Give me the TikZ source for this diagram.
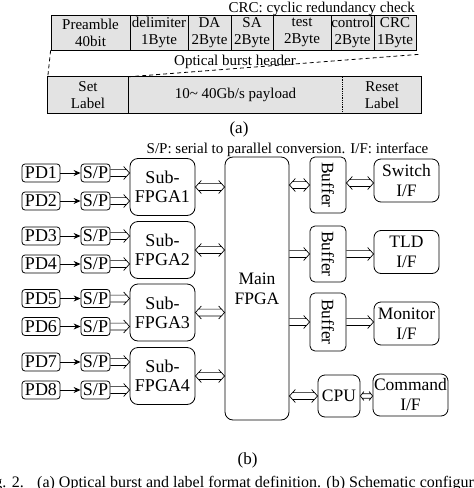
\documentclass[tikz,border=0pt]{standalone}
\usepackage{fontspec}
\usepackage{graphicx}
\setmainfont{Liberation Serif}
\usetikzlibrary{arrows.meta,calc}
\newcommand\fsz[2]{\fontsize{#1}{#2}\selectfont}
\newcommand\hsh{3.4}% shaft half-width
\newcommand\hhw{6.5}% head half-width
\newcommand\hhl{6}% head length
\tikzset{
  cell/.style={draw, line width=0.8pt, fill=black!11, inner sep=0pt, minimum height=35pt, align=center, font=\fsz{15}{17}},
  pcell/.style={fill=black!11, inner sep=0pt, minimum height=36pt, align=center, font=\fsz{15}{16.5}},
  boxline/.style={line width=0.8pt},
  dashln/.style={line width=0.8pt, dash pattern=on 4pt off 3pt},
  pdbox/.style={draw, line width=0.8pt, rounded corners=3pt, minimum width=38pt, minimum height=18pt, inner sep=0pt, font=\fsz{18}{20}},
  spbox/.style={draw, line width=0.8pt, rounded corners=3pt, minimum width=29pt, minimum height=18pt, inner sep=0pt, font=\fsz{18}{20}},
  subbox/.style={draw, line width=0.8pt, rounded corners=8pt, minimum width=65pt, minimum height=57pt, inner sep=0pt, align=center, font=\fsz{18}{19}},
  mainbox/.style={draw, line width=0.8pt, rounded corners=8pt, minimum width=64pt, minimum height=263pt, inner sep=0pt, align=center, font=\fsz{17.5}{20}},
  bufbox/.style={draw, line width=0.8pt, rounded corners=5pt, minimum width=36pt, minimum height=56pt, inner sep=0pt, font=\fsz{17.5}{20}},
  ifbox/.style={draw, line width=0.8pt, rounded corners=7pt, minimum width=65pt, minimum height=43pt, inner sep=0pt, align=center, font=\fsz{17.5}{20}},
  parrow/.style={line width=0.9pt, -{Stealth[length=7pt,width=6pt]}},
  hsingle/.style={line width=0.7pt, line join=miter, to path={
    ($(\tikztostart)+(0,\hsh)$) -- ($(\tikztotarget)+({-\hhl*\hsh/\hhw},\hsh)$)
    ($(\tikztostart)+(0,-\hsh)$) -- ($(\tikztotarget)+({-\hhl*\hsh/\hhw},-\hsh)$)
    ($(\tikztotarget)+(-\hhl,\hhw)$) -- (\tikztotarget) -- ($(\tikztotarget)+(-\hhl,-\hhw)$)
  }},
  hdouble/.style={line width=0.7pt, line join=miter, to path={
    ($(\tikztostart)+({\hhl*\hsh/\hhw},\hsh)$) -- ($(\tikztotarget)+({-\hhl*\hsh/\hhw},\hsh)$)
    ($(\tikztostart)+({\hhl*\hsh/\hhw},-\hsh)$) -- ($(\tikztotarget)+({-\hhl*\hsh/\hhw},-\hsh)$)
    ($(\tikztotarget)+(-\hhl,\hhw)$) -- (\tikztotarget) -- ($(\tikztotarget)+(-\hhl,-\hhw)$)
    ($(\tikztostart)+(\hhl,\hhw)$) -- (\tikztostart) -- ($(\tikztostart)+(\hhl,-\hhw)$)
  }},
  lbl/.style={inner sep=0pt, font=\fsz{15}{17}}
}
\begin{document}
\begin{tikzpicture}[x=1pt,y=-1pt]
\useasboundingbox (0,0) rectangle (474,488);
\clip (0,0) rectangle (474,488);

% ---------- (a) ----------
\node[lbl, anchor=base east] (crctxt) at (415,12) {CRC: cyclic redundancy check};
\node[cell, minimum width=79pt] (pre) at (90.5,32.5) {Preamble\\40bit};
\node[cell, minimum width=58pt] (del) at (159,32.5) {delimiter\\1Byte};
\node[cell, minimum width=43pt] (da) at (209.5,32.5) {DA\\2Byte};
\node[cell, minimum width=42pt] (sa) at (252,32.5) {SA\\2Byte};
\node[cell, minimum width=58pt] (tst) at (302,32.5) {test\\2Byte};
\node[cell, minimum width=43pt] (ctl) at (352.5,32.5) {control\\2Byte};
\node[cell, minimum width=42pt] (crc) at (395,32.5) {CRC\\1Byte};

\node[pcell, minimum width=80pt] (set) at (88,95) {Set\\Label};
\node[pcell, minimum width=215pt] (pay) at (235.5,95) {10\textasciitilde\ 40Gb/s payload};
\node[pcell, minimum width=78pt] (rst) at (382,95) {Reset\\Label};
\draw[boxline] (set.north west) rectangle (rst.south east);
\draw[boxline] (set.north east) -- (set.south east);
\draw[boxline, densely dotted] (rst.north west) -- (rst.south west);

\coordinate (hr) at ([xshift=2pt,yshift=-4pt]crc.south east);
\draw[dashln] (pre.south west) -- (set.north west);
\draw[dashln] (hr) -- (set.north east);
\node[lbl, anchor=base] (obh) at (235,65) {Optical burst header};
\node[inner sep=0pt, font=\fsz{17}{19}, anchor=base] (capa) at (239,133) {(a)};

% ---------- (b) ----------
\node[lbl, anchor=base] (legend) at (287.5,153) {S/P: serial to parallel conversion. I/F: interface};

\foreach \i/\y in {1/173,2/201,3/236,4/264,5/298.5,6/326.5,7/362,8/390}{
  \node[pdbox] (pd\i) at (41,\y) {PD\i};
  \node[spbox] (sp\i) at (95.5,\y) {S/P};
}
\node[subbox] (sf1) at (162.5,187) {Sub-\\FPGA1};
\node[subbox] (sf2) at (162.5,250) {Sub-\\FPGA2};
\node[subbox] (sf3) at (162.5,312.5) {Sub-\\FPGA3};
\node[subbox] (sf4) at (162.5,376) {Sub-\\FPGA4};

\node[mainbox] (main) at (257,288.5) {Main\\FPGA};

\node[bufbox] (b1) at (328,185) {\rotatebox{-90}{Buffer}};
\node[bufbox] (b2) at (328,254) {\rotatebox{-90}{Buffer}};
\node[bufbox, minimum height=58pt] (b3) at (328,322) {\rotatebox{-90}{Buffer}};
\node[bufbox, minimum width=42pt, minimum height=42pt, rounded corners=7pt] (cpu) at (339,396) {CPU};

\node[ifbox] (sw) at (406.5,180.5) {Switch\\I/F};
\node[ifbox] (tld) at (406.5,252) {TLD\\I/F};
\node[ifbox] (mon) at (406.5,323.5) {Monitor\\I/F};
\node[ifbox, minimum width=75pt, minimum height=42pt] (cmd) at (410.5,395) {Command\\I/F};

\foreach \i in {1,...,8}{
  \draw[parrow] (pd\i) -- (sp\i);
}
\foreach \i/\s in {1/1,2/1,3/2,4/2,5/3,6/3,7/4,8/4}{
  \draw[hsingle] (sp\i.east) to (sp\i.east -| sf\s.west);
}
\foreach \s in {1,...,4}{
  \draw[hdouble] (sf\s.east) to (sf\s.east -| main.west);
}
\draw[hdouble] (b1.west -| main.east) to (b1.west);
\draw[hsingle] (b2.west -| main.east) to (b2.west);
\draw[hsingle] (b3.west -| main.east) to (b3.west);
\draw[hdouble] (cpu.west -| main.east) to (cpu.west);
\draw[hdouble] ([yshift=2pt]b1.east) to ([yshift=2pt]b1.east -| sw.west);
\draw[hsingle] (b2.east) to (b2.east -| tld.west);
\draw[hsingle] (b3.east) to (b3.east -| mon.west);
\begin{scope}
\renewcommand\hsh{2.3}\renewcommand\hhw{4.5}\renewcommand\hhl{3.5}
\draw[hdouble] (cpu.east) to (cpu.east -| cmd.west);
\end{scope}

\node[inner sep=0pt, font=\fsz{17}{19}, anchor=base] (capb) at (247.5,464) {(b)};

% caption
\node[inner sep=0pt, font=\fsz{16}{18}, anchor=base east] (fig) at (24,487) {Fig. 2.};
\node[inner sep=0pt, font=\fsz{16}{18}, anchor=base west] (captxt) at (37,487) {(a) Optical burst and label format definition. (b) Schematic configuration of the label processor.};
\end{tikzpicture}
\end{document}
